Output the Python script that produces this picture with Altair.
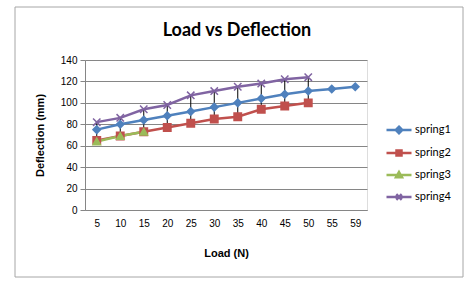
import altair as alt
import pandas as pd

loads = ["5", "10", "15", "20", "25", "30", "35", "40", "45", "50", "55", "59"]
spring1 = [75, 80, 84, 88, 92, 96, 100, 104, 108, 111, 113, 115]
spring2 = [65, 69, 73, 77, 81, 85, 87, 94, 97, 100]
spring3 = [64, 69, 73]
spring4 = [82, 86, 94, 98, 107, 111, 115, 118, 122, 124]
series_names = ["spring1", "spring2", "spring3", "spring4"]
colors = ["#4F81BD", "#C0504D", "#9BBB59", "#8064A2"]
y_ticks = [0, 20, 40, 60, 80, 100, 120, 140]
point_shapes = ["diamond", "square", "triangle-up", "M-1,-1L1,1M-1,1L1,-1"]
legend_shapes = [
    "M-1,0H1M0,-0.26L0.26,0L0,0.26L-0.26,0Z",
    "M-1,0H1M-0.2,-0.2H0.2V0.2H-0.2Z",
    "M-1,0H1M0,-0.24L0.24,0.18H-0.24Z",
    "M-1,0H1M-0.22,-0.22L0.22,0.22M-0.22,0.22L0.22,-0.22",
]

rows = []
for name, vals in zip(series_names, [spring1, spring2, spring3, spring4]):
    for ld, v in zip(loads, vals):
        rows.append({"load": ld, "deflection": v, "series": name})
df = pd.DataFrame(rows)

FONT = "Lato"
GRAY = "#868686"

legend = alt.Legend(
    title=None,
    orient="none",
    legendX=300,
    legendY=56,
    labelFont=FONT,
    labelFontSize=11,
    labelColor="#000000",
    symbolSize=625,
    symbolStrokeWidth=2.5,
    symbolOpacity=1,
    rowPadding=-3,
    labelOffset=2,
)

x_axis = alt.Axis(
    title="Load (N)",
    labelAngle=0,
    ticks=False,
    labelPadding=8,
    titlePadding=19,
    domainColor=GRAY,
    grid=False,
)
y_axis = alt.Axis(
    title="Deflection (mm)",
    values=y_ticks,
    tickSize=5,
    tickColor=GRAY,
    labelPadding=3,
    titlePadding=15,
    domainColor=GRAY,
    grid=True,
    gridColor=GRAY,
)
x_scale = alt.Scale(type="point", padding=0.5)
y_scale = alt.Scale(domain=[0, 140], nice=False)


def xe():
    return alt.X("load:O", sort=loads, scale=x_scale, axis=x_axis)


def ye(field="deflection:Q"):
    return alt.Y(field, scale=y_scale, axis=y_axis)


def cscale():
    return alt.Scale(domain=series_names, range=colors)


border = alt.Chart(pd.DataFrame({"a": [0]})).mark_rect(
    fill="transparent", stroke="#A6A6A6", strokeWidth=1
).encode(
    x=alt.value(-70), x2=alt.value(378), y=alt.value(-53), y2=alt.value(217)
)

lines = alt.Chart(df).mark_line(strokeWidth=2.5).encode(
    x=xe(),
    y=ye(),
    color=alt.Color("series:N", scale=cscale(), legend=None),
    detail="series:N",
)

hilo = alt.Chart(df).transform_aggregate(
    lo="min(deflection)", hi="max(deflection)", groupby=["load"]
).mark_rule(color="#000000", strokeWidth=1).encode(
    x=xe(),
    y=ye("lo:Q"),
    y2="hi:Q",
)

points = alt.Chart(df).mark_point(filled=True, size=55, strokeWidth=1.5, opacity=1).encode(
    x=xe(),
    y=ye(),
    color=alt.Color("series:N", scale=cscale(), legend=None),
    stroke=alt.Stroke("series:N", scale=cscale(), legend=None),
    shape=alt.Shape("series:N", scale=alt.Scale(domain=series_names, range=point_shapes), legend=None),
)

legend_layer = alt.Chart(df).transform_filter("false").mark_point(
    filled=True, size=625, strokeWidth=2.5, opacity=1
).encode(
    x=xe(),
    y=ye(),
    color=alt.Color("series:N", scale=cscale(), legend=legend),
    stroke=alt.Stroke("series:N", scale=cscale(), legend=legend),
    shape=alt.Shape("series:N", scale=alt.Scale(domain=series_names, range=legend_shapes), legend=legend),
)

chart = alt.layer(border, lines, hilo, points, legend_layer).resolve_scale(
    shape="independent", color="independent", stroke="independent"
).properties(
    width=282,
    height=150,
    autosize=alt.AutoSizeParams(type="none"),
    padding={"left": 85, "top": 60, "right": 107, "bottom": 77},
    title=alt.TitleParams(
        "Load vs Deflection",
        font=FONT,
        fontSize=18,
        fontWeight="bold",
        color="#000000",
        anchor="middle",
        dx=11,
        offset=-33,
    ),
).configure_view(stroke=None).configure_axis(
    labelFont=FONT, labelFontSize=11, labelColor="#000000",
    titleFont=FONT, titleFontSize=11, titleFontWeight="bold", titleColor="#000000",
).configure(background="#FFFFFF")

chart.save("out.html", embed_options={"renderer": "svg", "actions": False})
